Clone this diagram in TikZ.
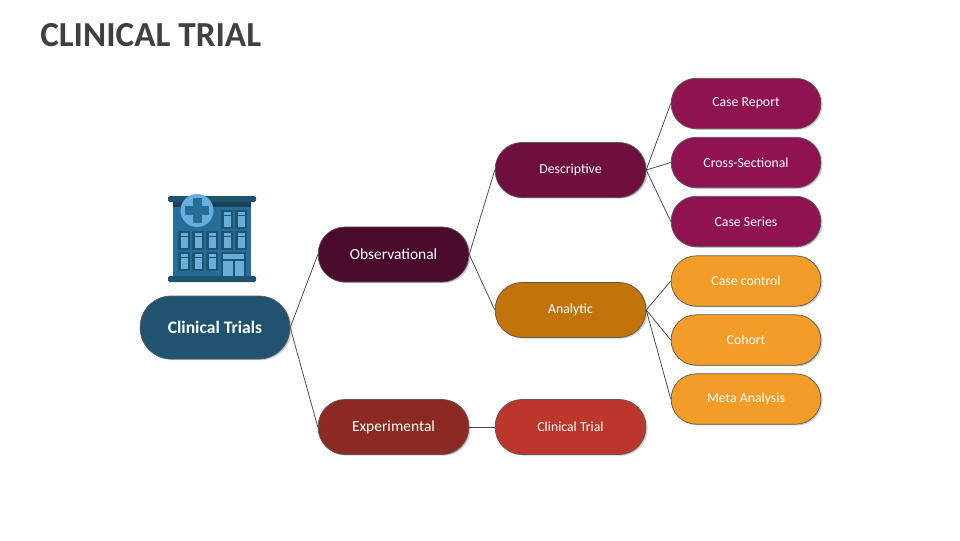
\documentclass[tikz,border=0pt]{standalone}
\usepackage{fontspec}
\setmainfont{Carlito}
\usepackage{xcolor}
\usetikzlibrary{shadows}
\definecolor{rootblue}{HTML}{1F5370}
\definecolor{obsplum}{HTML}{4A0A2B}
\definecolor{exprust}{HTML}{8A2A22}
\definecolor{descwine}{HTML}{6E0F3E}
\definecolor{anaochre}{HTML}{C2740A}
\definecolor{trialred}{HTML}{BB372C}
\definecolor{leafwine}{HTML}{8F1350}
\definecolor{leaforange}{HTML}{F39C27}
\definecolor{titlegray}{HTML}{404040}
\definecolor{linegray}{HTML}{4A4A4A}
\definecolor{iconbody}{HTML}{266E99}
\definecolor{icondark}{HTML}{1F5370}
\definecolor{iconnavy}{HTML}{173F57}
\definecolor{iconlight}{HTML}{67AEDB}

\begin{document}
\begin{tikzpicture}[x=0.025cm,y=-0.025cm]
  \tikzset{
    pill/.style={rounded rectangle fake,draw=black!65,line width=0.5pt,text=white,
      rounded corners=#1,inner sep=0pt,
      drop shadow={shadow xshift=1.2pt,shadow yshift=-0.8pt,opacity=0.4}},
    rounded rectangle fake/.style={rectangle},
    rootbox/.style={pill=31pt*0.711,minimum width=106.5pt*0.9999,minimum height=44.8pt,font=\fontsize{12.5}{14}\selectfont\bfseries},
    midbox/.style={pill=27pt*0.711,minimum width=107.2pt,minimum height=39.2pt,font=\fontsize{11}{13}\selectfont},
    subbox/.style={midbox,font=\fontsize{9.8}{12}\selectfont},
    leafbox/.style={pill=25pt*0.711,minimum width=106.5pt,minimum height=35.8pt,font=\fontsize{9.8}{12}\selectfont},
    link/.style={draw=linegray,line width=0.55pt},
  }
  \useasboundingbox (0,0) rectangle (960,540);

  \node[anchor=west,font=\fontsize{25}{30}\selectfont\bfseries,text=titlegray,inner sep=0pt] (title) at (40,35) {CLINICAL TRIAL};

  % hospital icon
  \fill[iconbody] (173,202) rectangle (251,277);
  \fill[iconnavy] (173,202) rectangle (251,207);
  \fill[icondark,rounded corners=1pt] (168,196) rectangle (256,202);
  \fill[icondark,rounded corners=1pt] (168,276) rectangle (256,282);
  \foreach \wx/\wy in {221/210,235/210,178/231,192/231,206/231,221/231,235/231,178/252,192/252,206/252}{
    \fill[icondark] (\wx,\wy) rectangle ++(12,19);
    \fill[iconlight] (\wx+2.5,\wy+6) rectangle ++(7,11);
    \fill[iconlight] (\wx+2.5,\wy+2) rectangle ++(7,2.5);
  }
  \fill[icondark] (221,252) rectangle (246,276);
  \fill[iconlight] (223,254) rectangle (244,259);
  \fill[iconlight] (223,261) rectangle (233,276);
  \fill[iconlight] (235,261) rectangle (244,276);
  \fill[iconlight] (197,210.5) circle [radius=16.5];
  \fill[iconbody] (193,198) rectangle (202,223);
  \fill[iconbody] (185,206) rectangle (209,215);

  \node[rootbox,fill=rootblue] (root) at (215,327.5) {Clinical Trials};
  \node[midbox,fill=obsplum] (obs) at (393.5,254.5) {Observational};
  \node[midbox,fill=exprust] (exper) at (393.5,427) {Experimental};
  \node[subbox,fill=descwine] (desc) at (570.5,170) {Descriptive};
  \node[subbox,fill=anaochre] (ana) at (570.5,310) {Analytic};
  \node[subbox,fill=trialred] (trial) at (570.5,427) {Clinical Trial};

  \node[leafbox,fill=leafwine] (report) at (746,103.5) {Case Report};
  \node[leafbox,fill=leafwine] (cross) at (746,162.5) {Cross-Sectional};
  \node[leafbox,fill=leafwine] (series) at (746,221.5) {Case Series};
  \node[leafbox,fill=leaforange] (control) at (746,281) {Case control};
  \node[leafbox,fill=leaforange] (cohort) at (746,340) {Cohort};
  \node[leafbox,fill=leaforange] (meta) at (746,399) {Meta Analysis};

  \draw[link] (root.east) -- (obs.west);
  \draw[link] (root.east) -- (exper.west);
  \draw[link] (obs.east) -- (desc.west);
  \draw[link] (obs.east) -- (ana.west);
  \draw[link] (exper.east) -- (trial.west);
  \foreach \leaf in {report,cross,series}
    \draw[link] (desc.east) -- (\leaf.west);
  \foreach \leaf in {control,cohort,meta}
    \draw[link] (ana.east) -- (\leaf.west);
\end{tikzpicture}
\end{document}
